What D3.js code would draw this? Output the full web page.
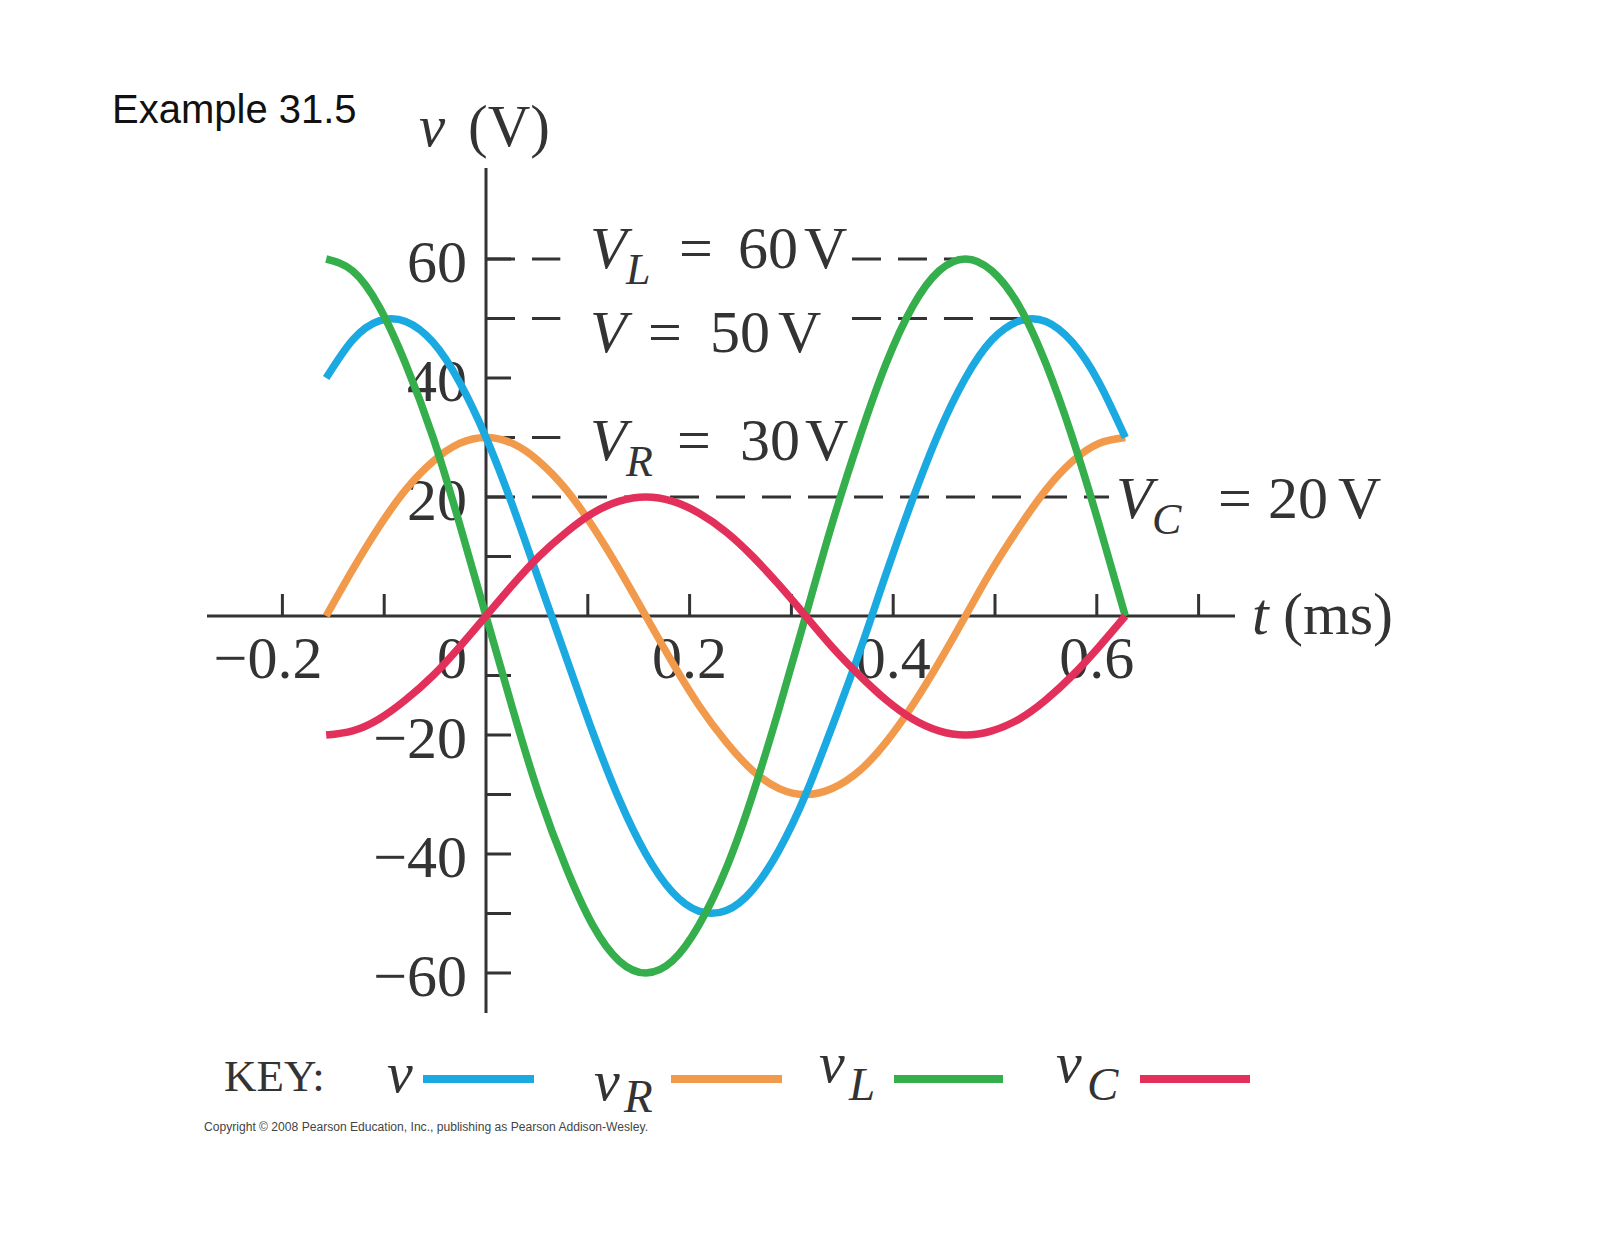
<!DOCTYPE html>
<html>
<head>
<meta charset="utf-8">
<script src="https://cdn.jsdelivr.net/npm/d3@7"></script>
<style>
  body { margin: 0; background: #fff; }
  svg { display: block; }
  .serif { font-family: "Liberation Serif", "Times New Roman", serif; fill: #333; }
</style>
</head>
<body>
<div id="chart"></div>
<script>

// time samples (ms)
const tMs = [-0.157, -0.131, -0.105, -0.079, -0.052, -0.026, 0, 0.026, 0.052, 0.079, 0.105,
    0.131, 0.157, 0.183, 0.209, 0.236, 0.262, 0.288, 0.314, 0.340, 0.367, 0.393, 0.419,
    0.445, 0.471, 0.497, 0.524, 0.550, 0.576, 0.602, 0.628]

// voltages (V) at those times
const vTotal = [40, 46.4, 49.6, 49.5, 46.0, 39.3, 30, 18.6, 6.0, -7.1, -19.6, -30.9, -40, -46.4,
    -49.6, -49.5, -46.0, -39.3, -30, -18.6, -6.0, 7.1, 19.6, 30.9, 40, 46.4, 49.6, 49.5, 46.0, 39.3, 30]
const vR = [0, 7.8, 15, 21.2, 26, 29, 30, 29, 26, 21.2, 15, 7.8, 0, -7.8, -15, -21.2, -26, -29,
    -30, -29, -26, -21.2, -15, -7.8, 0, 7.8, 15, 21.2, 26, 29, 30]
const vL = [60, 58, 52, 42.4, 30, 15.5, 0, -15.5, -30, -42.4, -52, -58, -60, -58, -52, -42.4, -30,
    -15.5, 0, 15.5, 30, 42.4, 52, 58, 60, 58, 52, 42.4, 30, 15.5, 0]
const vC = [-20, -19.3, -17.3, -14.1, -10, -5.2, 0, 5.2, 10, 14.1, 17.3, 19.3, 20, 19.3, 17.3, 14.1,
    10, 5.2, 0, -5.2, -10, -14.1, -17.3, -19.3, -20, -19.3, -17.3, -14.1, -10, -5.2, 0]

// axes
const xTicks = [-0.2, -0.1, 0.1, 0.2, 0.3, 0.4, 0.5, 0.6, 0.7]
const xTickLabels = [[-0.2, "\u22120.2"], [0, "0"], [0.2, "0.2"], [0.4, "0.4"], [0.6, "0.6"]]
const yTicks = [-60, -50, -40, -30, -20, -10, 10, 20, 30, 40, 50, 60]
const yTickLabels = [[60, "60"], [40, "40"], [20, "20"], [-20, "\u221220"], [-40, "\u221240"], [-60, "\u221260"]]

// dashed amplitude guides: value and [t start, t end] pieces
const guideValues = [60, 50, 30, 20]
const guidePieces = [
    [[0, 0.073], [0.3595, 0.471]],
    [[0, 0.073], [0.3595, 0.5357]],
    [[0, 0.073]],
    [[0, 0.612]]
]

const svgWidth = 1600
const svgHeight = 1237

const svg = d3.select('#chart')
    .append('svg')
    .attr('width', svgWidth)
    .attr('height', svgHeight)

svg.append('rect').attr('width', svgWidth).attr('height', svgHeight).attr('fill', '#fff')

////////////////////////////////////
//////////////scales////////////////
////////////////////////////////////

const x = d3.scaleLinear().domain([-0.2, 0.7]).range([282.4, 1198.6])
const y = d3.scaleLinear().domain([-60, 60]).range([973, 259])

const axisColor = '#333'

////////////////////////////////////
///////////////axis/////////////////
////////////////////////////////////

// x axis line + upward ticks
svg.append('line')
    .attr('x1', 207).attr('x2', 1235)
    .attr('y1', y(0)).attr('y2', y(0))
    .attr('stroke', axisColor).attr('stroke-width', 3)

svg.append('g')
    .selectAll('line')
    .data(xTicks)
    .join('line')
    .attr('x1', d => x(d)).attr('x2', d => x(d))
    .attr('y1', y(0)).attr('y2', y(0) - 22)
    .attr('stroke', axisColor).attr('stroke-width', 3)

// y axis line + right ticks
svg.append('line')
    .attr('x1', x(0)).attr('x2', x(0))
    .attr('y1', 168).attr('y2', 1013)
    .attr('stroke', axisColor).attr('stroke-width', 3)

svg.append('g')
    .selectAll('line')
    .data(yTicks)
    .join('line')
    .attr('x1', x(0)).attr('x2', x(0) + 25)
    .attr('y1', d => y(d)).attr('y2', d => y(d))
    .attr('stroke', axisColor).attr('stroke-width', 3)

// dashed guides
guideValues.forEach((v, i) => {
    svg.append('g')
        .selectAll('line')
        .data(guidePieces[i])
        .join('line')
        .attr('x1', d => x(d[0])).attr('x2', d => x(d[1]))
        .attr('y1', y(v)).attr('y2', y(v))
        .attr('stroke', axisColor)
        .attr('stroke-width', 3)
        .attr('stroke-dasharray', '29,17')
})

// tick labels
svg.append('g')
    .selectAll('text')
    .data(yTickLabels)
    .join('text')
    .attr('class', 'serif')
    .attr('x', 467)
    .attr('y', d => y(d[0]) + 23)
    .attr('text-anchor', 'end')
    .attr('font-size', 60)
    .text(d => d[1])

svg.append('g')
    .selectAll('text')
    .data(xTickLabels)
    .join('text')
    .attr('class', 'serif')
    .attr('x', d => d[0] < 0 ? x(d[0]) + 40 : d[0] == 0 ? x(d[0]) - 34 : x(d[0]))
    .attr('y', 678)
    .attr('text-anchor', d => d[0] < 0 ? 'end' : 'middle')
    .attr('font-size', 60)
    .text(d => d[1])

// axis titles
const yTitle = svg.append('text').attr('class', 'serif').attr('y', 146).attr('font-size', 59)
yTitle.append('tspan').attr('x', 419).attr('font-style', 'italic').text('v')
yTitle.append('tspan').attr('x', 468).text('(V)')

const xTitle = svg.append('text').attr('class', 'serif').attr('y', 634).attr('font-size', 60)
xTitle.append('tspan').attr('x', 1252).attr('font-style', 'italic').text('t')
xTitle.append('tspan').attr('x', 1283).text('(ms)')

////////////////////////////////////
////////// lines ///////////////////
////////////////////////////////////

const series = [
    { name: 'vR', values: vR, color: '#f29a4c' },
    { name: 'v', values: vTotal, color: '#1ba9e2' },
    { name: 'vL', values: vL, color: '#35ae4c' },
    { name: 'vC', values: vC, color: '#e3305a' }
]

const line = d3.line()
    .x((d, i) => x(tMs[i]))
    .y(d => y(d))
    .curve(d3.curveNatural)

svg.append('g')
    .selectAll('path')
    .data(series)
    .join('path')
    .attr('d', d => line(d.values))
    .attr('fill', 'none')
    .attr('stroke', d => d.color)
    .attr('stroke-width', 7.5)
    .attr('stroke-linejoin', 'round')

////////////////////////////////////
////////// annotations /////////////
////////////////////////////////////

function label(base, sub, subName, rest) {
    // rest: [[x, text], ...]
    const t = svg.append('text').attr('class', 'serif').attr('y', base.y).attr('font-size', 60)
    t.append('tspan').attr('x', base.x).attr('font-style', 'italic').text('V')
    if (subName) {
        t.append('tspan').attr('x', sub.x).attr('y', base.y + sub.dy)
            .attr('font-style', 'italic').attr('font-size', 44).text(subName)
    }
    rest.forEach(r => t.append('tspan').attr('x', r[0]).attr('y', base.y).text(r[1]))
}

label({ x: 590, y: 268 }, { x: 626, dy: 16 }, 'L', [[679, '='], [738, '60'], [804, 'V']])
label({ x: 590, y: 352 }, null, null, [[648, '='], [710, '50'], [778, 'V']])
label({ x: 590, y: 460 }, { x: 626, dy: 16 }, 'R', [[677, '='], [740, '30'], [805, 'V']])
label({ x: 1116, y: 518 }, { x: 1152, dy: 16 }, 'C', [[1218, '='], [1268, '20'], [1338, 'V']])

// title
svg.append('text')
    .attr('x', 112).attr('y', 123)
    .attr('font-family', '"Liberation Sans", Arial, sans-serif')
    .attr('font-size', 40)
    .attr('fill', '#111')
    .text('Example 31.5')

////////////////////////////////////
////////////// key /////////////////
////////////////////////////////////

svg.append('text')
    .attr('class', 'serif')
    .attr('x', 224).attr('y', 1091)
    .attr('font-size', 45)
    .text('KEY:')

const keyItems = [
    { name: 'v', sub: '', vx: 387, vy: 1092, sx: 0, sy: 0, x1: 423, x2: 534, color: '#1ba9e2' },
    { name: 'v', sub: 'R', vx: 594, vy: 1100, sx: 624, sy: 1112, x1: 671, x2: 782, color: '#f29a4c' },
    { name: 'v', sub: 'L', vx: 819, vy: 1082, sx: 849, sy: 1100, x1: 894, x2: 1003, color: '#35ae4c' },
    { name: 'v', sub: 'C', vx: 1056, vy: 1082, sx: 1087, sy: 1100, x1: 1140, x2: 1250, color: '#e3305a' }
]

keyItems.forEach(k => {
    const t = svg.append('text').attr('class', 'serif').attr('font-style', 'italic').attr('font-size', 58)
    t.append('tspan').attr('x', k.vx).attr('y', k.vy).text(k.name)
    if (k.sub) t.append('tspan').attr('x', k.sx).attr('y', k.sy).attr('font-size', 47).text(k.sub)
    svg.append('line')
        .attr('x1', k.x1).attr('x2', k.x2)
        .attr('y1', 1079).attr('y2', 1079)
        .attr('stroke', k.color).attr('stroke-width', 8)
})

svg.append('text')
    .attr('x', 204).attr('y', 1131)
    .attr('font-family', '"Liberation Sans", Arial, sans-serif')
    .attr('font-size', 12)
    .attr('fill', '#444')
    .attr('textLength', 444)
    .attr('lengthAdjust', 'spacingAndGlyphs')
    .text('Copyright \u00a9 2008 Pearson Education, Inc., publishing as Pearson Addison-Wesley.')

</script>
</body>
</html>
